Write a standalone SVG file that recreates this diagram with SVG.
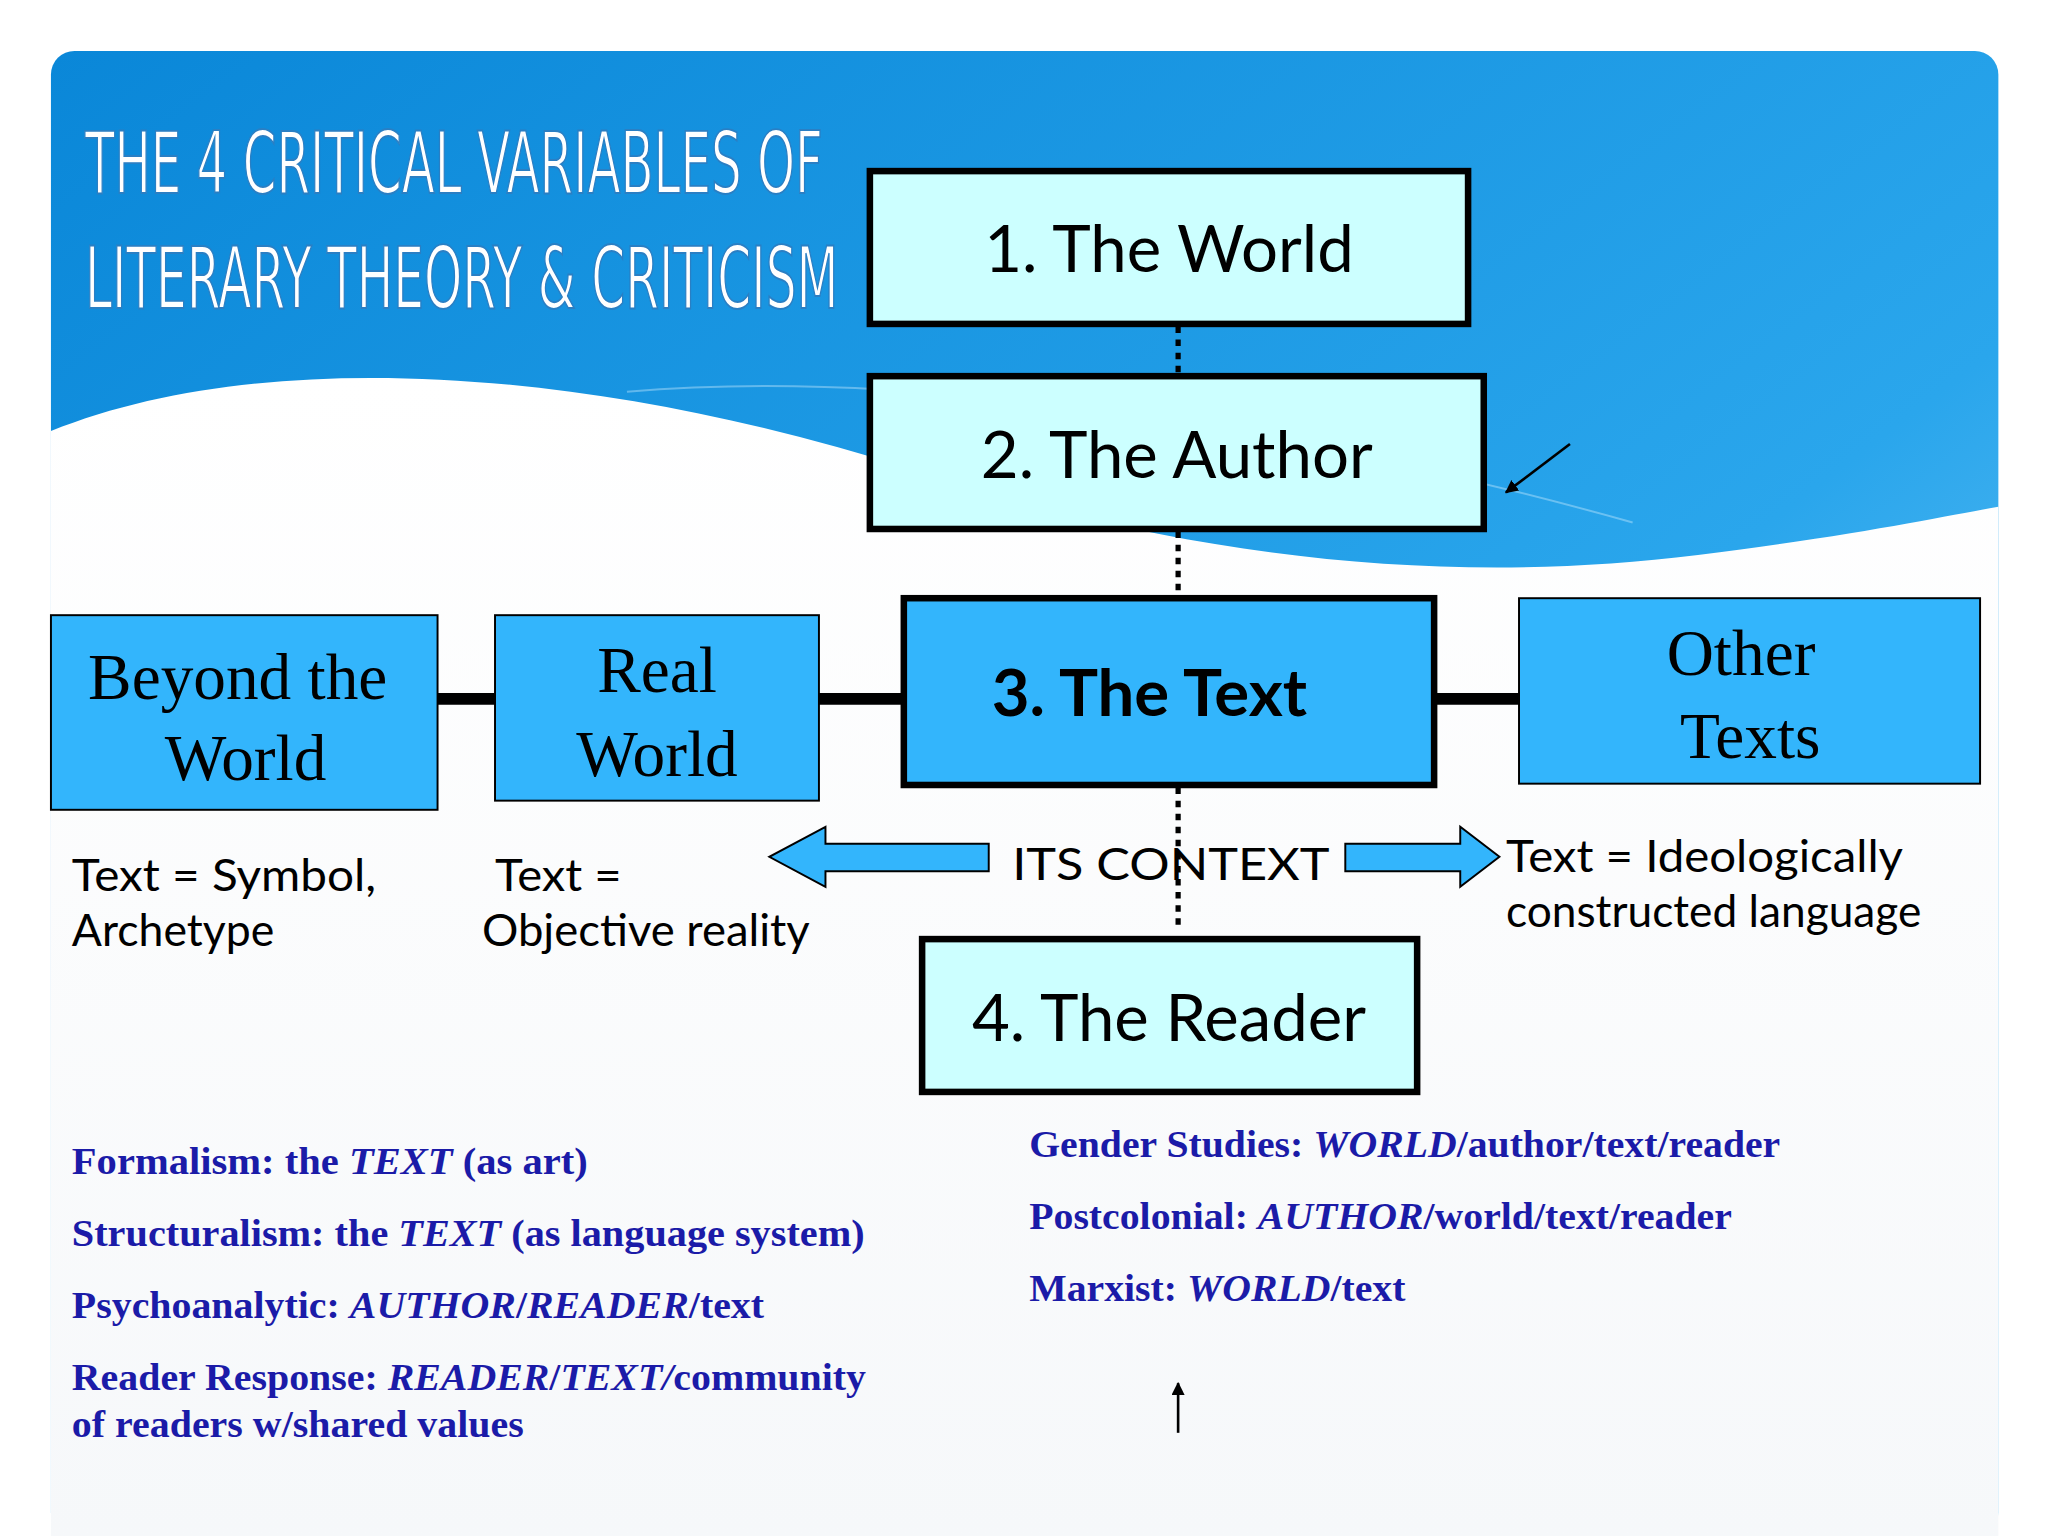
<svg xmlns="http://www.w3.org/2000/svg" width="2048" height="1536" viewBox="0 0 2048 1536">
<defs>
<linearGradient id="sky" x1="0" y1="0" x2="1" y2="1">
<stop offset="0" stop-color="#0a87d8"/><stop offset="0.6" stop-color="#2aa6ec"/><stop offset="1" stop-color="#8fd4fa"/>
</linearGradient>
<linearGradient id="fade" x1="0" y1="0" x2="0" y2="1">
<stop offset="0" stop-color="#ffffff"/><stop offset="1" stop-color="#f6f8fa"/>
</linearGradient>
<marker id="ah" viewBox="0 0 10 10" refX="9" refY="5" markerWidth="5" markerHeight="5" orient="auto"><path d="M0,0 L10,5 L0,10 Z" fill="#000"/></marker>
<style>
.lb{fill:#ccffff;stroke:#000;stroke-width:5}
.db{fill:#33b5fc;stroke:#000;stroke-width:1.5}
.bt{font-family:Lato,"Open Sans",sans-serif;font-size:50px;text-anchor:middle;fill:#000}
.st{font-family:"Liberation Serif",serif;font-size:50px;text-anchor:middle;fill:#000}
.sm{font-family:Lato,"Open Sans",sans-serif;font-size:34px;fill:#000}
.bl{font-family:"Liberation Serif",serif;font-size:29px;font-weight:bold;fill:#1b1ba8}
.ti{font-family:"DejaVu Sans Condensed","DejaVu Sans",sans-serif;font-size:66px;fill:#ffffff;stroke:#2a7fc4;stroke-width:1.5}
.dot{stroke:#000;stroke-width:4;stroke-dasharray:5 5;fill:none}
.thick{stroke:#000;stroke-width:9}
.barrow{fill:#33b5fc;stroke:#000;stroke-width:1.5}
</style>
</defs>
<g transform="scale(1.30612)">
<rect x="0" y="0" width="1568" height="1176" fill="#ffffff"/>
<rect x="39" y="39" width="1491" height="1137" rx="18" fill="url(#sky)"/>
<path d="M39,330 C200,265 450,280 700,360 C900,425 1100,450 1300,425 C1420,410 1490,395 1530,388 L1530,1176 L39,1176 Z" fill="url(#fade)"/>
<path d="M480,300 C700,280 1000,330 1250,400" stroke="#cfeefe" stroke-width="1.5" fill="none" opacity="0.4"/>
<g id="title">
<text class="ti" x="65" y="148" textLength="565" lengthAdjust="spacingAndGlyphs">THE 4 CRITICAL VARIABLES OF</text>
<text class="ti" x="65" y="236" textLength="577" lengthAdjust="spacingAndGlyphs">LITERARY THEORY &amp; CRITICISM</text>
</g>
<g id="connectors">
<line class="dot" x1="902" y1="250" x2="902" y2="287"/>
<line class="dot" x1="902" y1="407" x2="902" y2="458"/>
<line class="dot" x1="902" y1="603" x2="902" y2="708"/>
<line class="thick" x1="327" y1="535" x2="379" y2="535"/>
<line class="thick" x1="627" y1="535" x2="692" y2="535"/>
<line class="thick" x1="1098" y1="535" x2="1163" y2="535"/>
<line x1="1202" y1="340" x2="1153" y2="377" stroke="#000" stroke-width="2" marker-end="url(#ah)"/>
<line x1="902" y1="1097" x2="902" y2="1059" stroke="#000" stroke-width="2" marker-end="url(#ah)"/>
<path class="barrow" d="M757,646 L632,646 L632,633 L589,656 L632,679 L632,667 L757,667 Z"/>
<path class="barrow" d="M1030,646 L1118,646 L1118,633 L1148,656 L1118,679 L1118,667 L1030,667 Z"/>
</g>
<g id="world"><rect class="lb" x="666" y="131" width="458" height="117"/><text class="bt" x="895" y="208">1. The World</text></g>
<g id="author"><rect class="lb" x="666" y="288" width="470" height="117"/><text class="bt" x="901" y="366">2. The Author</text></g>
<g id="text"><rect x="692" y="458" width="406" height="143" fill="#33b5fc" stroke="#000" stroke-width="5"/><text class="bt" x="880" y="548" font-weight="bold">3. The Text</text></g>
<g id="beyond"><rect class="db" x="39" y="471" width="296" height="149"/><text class="st" x="182" y="535">Beyond the</text><text class="st" x="188" y="597">World</text></g>
<g id="real"><rect class="db" x="379" y="471" width="248" height="142"/><text class="st" x="503" y="530">Real</text><text class="st" x="503" y="594">World</text></g>
<g id="other"><rect class="db" x="1163" y="458" width="353" height="142"/><text class="st" x="1333" y="517">Other</text><text class="st" x="1340" y="580">Texts</text></g>
<g id="reader"><rect class="lb" x="706" y="719" width="379" height="117"/><text class="bt" x="895" y="797">4. The Reader</text></g>
<g id="labels">
<text class="sm" x="775" y="674" font-size="40" textLength="243" lengthAdjust="spacingAndGlyphs">ITS CONTEXT</text>
<text class="sm" x="55" y="682" textLength="233" lengthAdjust="spacingAndGlyphs">Text = Symbol,</text>
<text class="sm" x="55" y="724" textLength="155" lengthAdjust="spacingAndGlyphs">Archetype</text>
<text class="sm" x="379" y="682" textLength="97" lengthAdjust="spacingAndGlyphs">Text =</text>
<text class="sm" x="369" y="724" textLength="251" lengthAdjust="spacingAndGlyphs">Objective reality</text>
<text class="sm" x="1153" y="668" textLength="304" lengthAdjust="spacingAndGlyphs">Text = Ideologically</text>
<text class="sm" x="1153" y="710" textLength="318" lengthAdjust="spacingAndGlyphs">constructed language</text>
<text class="bl" x="55" y="899" textLength="395" lengthAdjust="spacingAndGlyphs">Formalism: the <tspan font-style="italic">TEXT</tspan>  (as art)</text>
<text class="bl" x="55" y="954" textLength="607" lengthAdjust="spacingAndGlyphs">Structuralism: the <tspan font-style="italic">TEXT</tspan>  (as language system)</text>
<text class="bl" x="55" y="1009" textLength="530" lengthAdjust="spacingAndGlyphs">Psychoanalytic: <tspan font-style="italic">AUTHOR</tspan>/<tspan font-style="italic">READER</tspan>/text</text>
<text class="bl" x="55" y="1064" textLength="608" lengthAdjust="spacingAndGlyphs">Reader Response: <tspan font-style="italic">READER</tspan>/<tspan font-style="italic">TEXT/</tspan>community</text>
<text class="bl" x="55" y="1100" textLength="346" lengthAdjust="spacingAndGlyphs">of readers w/shared values</text>
<text class="bl" x="788" y="886" textLength="575" lengthAdjust="spacingAndGlyphs">Gender Studies: <tspan font-style="italic">WORLD</tspan>/author/text/reader</text>
<text class="bl" x="788" y="941" textLength="538" lengthAdjust="spacingAndGlyphs">Postcolonial: <tspan font-style="italic">AUTHOR</tspan>/world/text/reader</text>
<text class="bl" x="788" y="996" textLength="288" lengthAdjust="spacingAndGlyphs">Marxist: <tspan font-style="italic">WORLD</tspan>/text</text>
</g>
</g>
</svg>
